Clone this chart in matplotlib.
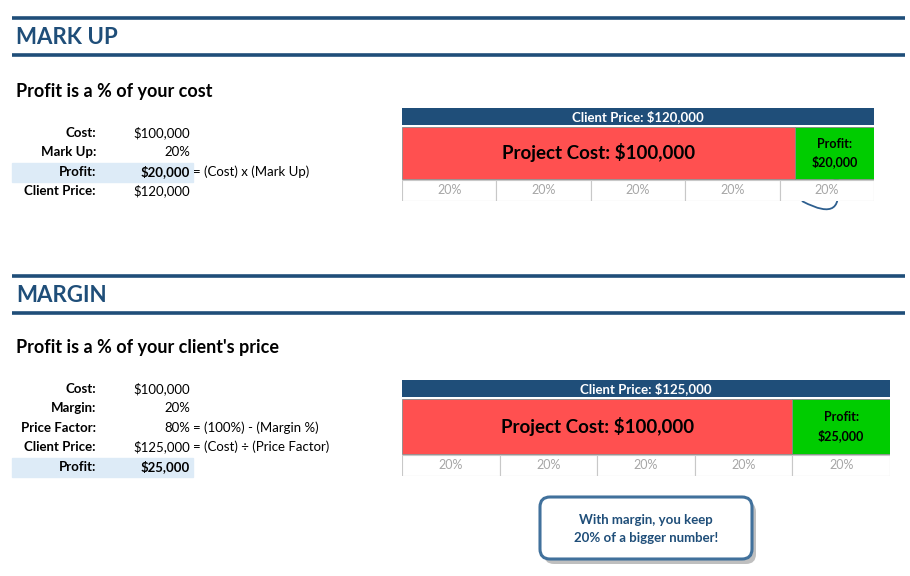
import matplotlib
matplotlib.use("Agg")
import matplotlib.pyplot as plt
from matplotlib.patches import FancyBboxPatch, FancyArrowPatch, Rectangle

plt.rcParams["font.family"] = "Lato"

# ---- data ----
cost = 100000
markup_pct = 0.20
markup_profit = cost * markup_pct
markup_price = cost + markup_profit
margin_pct = 0.20
margin_price = cost / (1 - margin_pct)
margin_profit = margin_price - cost
markup_labels = ["Cost:", "Mark Up:", "Profit:", "Client Price:"]
markup_values = ["$100,000", "20%", "$20,000", "$120,000"]
markup_notes = ["", "", "= (Cost) x (Mark Up)", ""]
margin_labels = ["Cost:", "Margin:", "Price Factor:", "Client Price:", "Profit:"]
margin_values = ["$100,000", "20%", "80%", "$125,000", "$25,000"]
margin_notes = ["", "", "= (100%) - (Margin %)", "= (Cost) ÷ (Price Factor)", ""]

NAVY = "#1F4E79"
RED = "#FF5050"
GREEN = "#00CC00"
HL = "#DDEBF7"
W, H = 910, 576

fig = plt.figure(figsize=(9.1, 5.76), dpi=100)
ax = fig.add_axes([0, 0, 1, 1])
ax.set_xlim(0, W); ax.set_ylim(H, 0); ax.axis("off")

def section(y_top, y_bot, title, sub, sub_y):
    for y in (y_top, y_bot):
        ax.plot([12, 905], [y, y], color=NAVY, lw=2.6, solid_capstyle="butt")
    ax.text(16, (y_top + y_bot) / 2 + 1, title, color=NAVY, fontsize=16, fontweight="bold", va="center")
    ax.text(16, sub_y, sub, color="black", fontsize=13, fontweight="bold", va="center")

def table(ys, labels, values, notes, bold_row, hl_row):
    for i, y in enumerate(ys):
        if i == hl_row:
            ax.add_patch(Rectangle((12, y - 9.5), 181, 19, color=HL, zorder=0))
        ax.text(96, y, labels[i], ha="right", va="center", fontsize=9.5, fontweight="bold")
        ax.text(190, y, values[i], ha="right", va="center", fontsize=9.5,
                fontweight="bold" if i == bold_row else "normal")
        if notes[i]:
            ax.text(193, y, notes[i], ha="left", va="center", fontsize=9.5)

def bars(x0, x1, y0, y1, price, profit, pct):
    bx = fig.add_axes([x0 / W, 1 - y1 / H, (x1 - x0) / W, (y1 - y0) / H])
    bx.set_xlim(0, price); bx.set_ylim(y1, y0); bx.axis("off")
    hdr = (y0, y0 + 17); main = (y0 + 19, y1 - 22); cells = (y1 - 21, y1)
    bx.barh((hdr[0] + hdr[1]) / 2, price, height=hdr[1] - hdr[0], left=0, color=NAVY)
    bx.text(price / 2, (hdr[0] + hdr[1]) / 2, f"Client Price: ${price:,.0f}", color="white",
            fontsize=9.5, fontweight="bold", ha="center", va="center")
    mc = (main[0] + main[1]) / 2
    bx.barh(mc, cost, height=main[1] - main[0], left=0, color=RED, edgecolor="#888888", lw=0.6)
    bx.barh(mc, profit, height=main[1] - main[0], left=cost, color=GREEN, edgecolor="#888888", lw=0.6)
    bx.text(cost / 2, mc, f"Project Cost: ${cost:,.0f}", fontsize=13.5, fontweight="bold",
            ha="center", va="center")
    bx.text(cost + profit / 2, mc, f"Profit:\n${profit:,.0f}", fontsize=9, fontweight="bold",
            ha="center", va="center", linespacing=1.5)
    step = price * pct if price * pct * 5 == price else cost * pct
    n = int(round(price / step)) if abs(price / step - round(price / step)) < 1e-6 else 5
    cc = (cells[0] + cells[1]) / 2
    for k in range(n):
        bx.barh(cc, step, height=cells[1] - cells[0], left=k * step, color="white",
                edgecolor="#C8C8C8", lw=0.8)
        bx.text(k * step + step / 2, cc, f"{pct:.0%}", color="#A6A6A6", fontsize=9,
                ha="center", va="center")
    return bx

# ---- MARK UP ----
section(18, 55, "MARK UP", "Profit is a % of your cost", 91)
table([133, 152, 172, 191], markup_labels, markup_values, markup_notes, 2, 2)
bars(402, 874, 108, 201, markup_price, markup_profit, markup_pct)
ax.add_patch(FancyArrowPatch((800, 200), (834, 173), connectionstyle="arc3,rad=1.2",
                             arrowstyle="-|>,head_length=8,head_width=5", color="#2E5F8F",
                             lw=1.3, zorder=5))

# ---- MARGIN ----
section(276, 313, "MARGIN", "Profit is a % of your client's price", 347)
table([389, 408, 428, 447, 467], margin_labels, margin_values, margin_notes, 4, 4)
bars(402, 890, 380, 476, margin_price, margin_profit, margin_pct)

# callout
ax.add_patch(FancyBboxPatch((544, 502), 212, 62, boxstyle="round,pad=0,rounding_size=10",
                            fc="#BFBFBF", ec="none", zorder=3))
ax.add_patch(FancyBboxPatch((540, 497), 212, 62, boxstyle="round,pad=0,rounding_size=10",
                            fc="white", ec="#41719C", lw=2.2, zorder=4))
ax.text(646, 529, "With margin, you keep\n20% of a bigger number!", color=NAVY, fontsize=9.5,
        fontweight="bold", ha="center", va="center", linespacing=1.6, zorder=5)

fig.savefig("out.png", dpi=100)
